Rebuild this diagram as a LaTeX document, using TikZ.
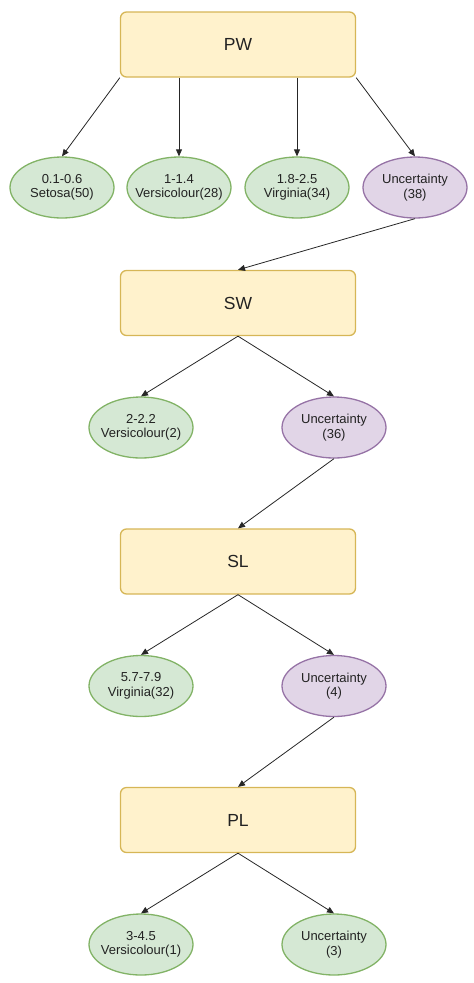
\documentclass[tikz,border=0pt]{standalone}
\usepackage{fontspec}
\setmainfont{Liberation Sans}
\usetikzlibrary{arrows.meta,calc,shapes.geometric}
\definecolor{yfill}{HTML}{FFF2CC}
\definecolor{ydraw}{HTML}{D6B656}
\definecolor{gfill}{HTML}{D5E8D4}
\definecolor{gdraw}{HTML}{82B366}
\definecolor{pfill}{HTML}{E1D5E7}
\definecolor{pdraw}{HTML}{9673A6}
\definecolor{txt}{HTML}{222222}
\tikzset{
  attr/.style={rectangle, rounded corners=6pt, fill=yfill, draw=ydraw, line width=1.3pt,
    minimum width=235pt, minimum height=65pt, inner sep=0pt,
    font=\fontsize{17.5}{20}\selectfont, text=txt},
  leaf/.style={ellipse, fill=gfill, draw=gdraw, line width=1.3pt,
    minimum width=104pt, minimum height=61pt, inner xsep=-16pt, inner ysep=0pt, align=center,
    font=\fontsize{13}{14.5}\selectfont, text=txt},
  unc/.style={leaf, fill=pfill, draw=pdraw},
  edge/.style={draw=black!85, line width=0.8pt, -{Triangle[length=7pt,width=6pt]}},
}
\begin{document}
\begin{tikzpicture}[x=1pt,y=-1pt]
\useasboundingbox (0,0) rectangle (474,983);
% row 1
\node[attr] (pw) at (238,44.5) {PW};
\node[leaf] (a1) at (62,187.5) {0.1-0.6\\Setosa(50)};
\node[leaf] (a2) at (179,187.5) {1-1.4\\Versicolour(28)};
\node[leaf] (a3) at (297,187.5) {1.8-2.5\\Virginia(34)};
\node[unc]  (a4) at (415,187.5) {Uncertainty\\(38)};
% row 2
\node[attr] (sw) at (238,303) {SW};
\node[leaf] (b1) at (141,427.5) {2-2.2\\Versicolour(2)};
\node[unc]  (b2) at (334,427.5) {Uncertainty\\(36)};
% row 3
\node[attr] (sl) at (238,561.5) {SL};
\node[leaf] (c1) at (141,686) {5.7-7.9\\Virginia(32)};
\node[unc]  (c2) at (334,686) {Uncertainty\\(4)};
% row 4
\node[attr] (pl) at (238,820) {PL};
\node[leaf] (d1) at (141,944.5) {3-4.5\\Versicolour(1)};
\node[leaf] (d2) at (334,944.5) {Uncertainty\\(3)};
% edges
\draw[edge] (pw.south west) -- (a1.north);
\draw[edge] (a2 |- pw.south) -- (a2.north);
\draw[edge] (a3 |- pw.south) -- (a3.north);
\draw[edge] (pw.south east) -- (a4.north);
\draw[edge] (a4.south) -- (sw.north);
\draw[edge] (sw.south) -- (b1.north);
\draw[edge] (sw.south) -- (b2.north);
\draw[edge] (b2.south) -- (sl.north);
\draw[edge] (sl.south) -- (c1.north);
\draw[edge] (sl.south) -- (c2.north);
\draw[edge] (c2.south) -- (pl.north);
\draw[edge] (pl.south) -- (d1.north);
\draw[edge] (pl.south) -- (d2.north);
\end{tikzpicture}
\end{document}
